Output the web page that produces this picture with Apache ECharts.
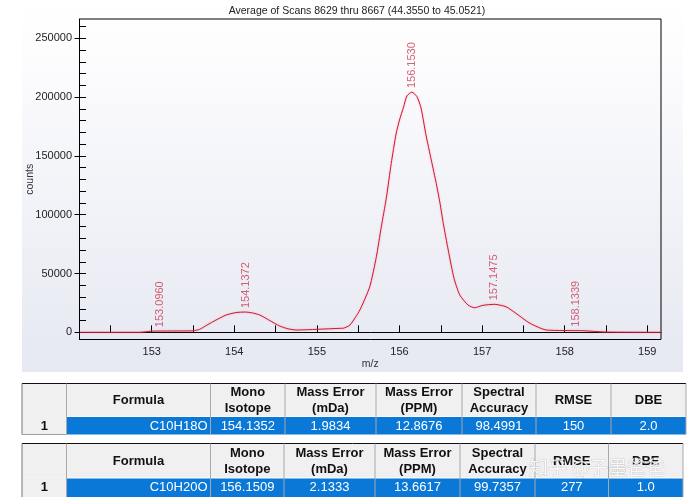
<!DOCTYPE html>
<html>
<head>
<meta charset="utf-8">
<style>html,body{margin:0;padding:0;background:#fff}#main{width:687px;height:497px}</style>
<script src="https://cdn.jsdelivr.net/npm/echarts@6/dist/echarts.min.js"></script>
</head>
<body>
<div id="main"></div>
<script>
var titleText = 'Average of Scans 8629 thru 8667 (44.3550 to 45.0521)';

// spectrum
var mzValues = [152.13, 152.5, 152.85, 153.0, 153.5, 153.58, 153.67, 153.78, 153.9, 154.02, 154.13, 154.22, 154.31, 154.43, 154.55, 154.65, 154.75, 155.0, 155.28, 155.32, 155.4, 155.52, 155.64, 155.72, 155.78, 155.84, 155.9, 155.96, 156.0, 156.05, 156.09, 156.15, 156.21, 156.26, 156.32, 156.385, 156.445, 156.49, 156.53, 156.59, 156.66, 156.73, 156.83, 156.91, 157.01, 157.15, 157.29, 157.41, 157.58, 157.78, 158.22, 158.5, 159.17];
var countValues = [0, 0, 0, 1000, 1300, 2500, 6200, 10500, 14700, 16800, 17250, 16500, 14700, 10000, 5350, 3000, 1950, 2550, 3400, 3500, 6200, 18950, 38760, 64260, 89760, 113900, 143650, 169150, 180450, 191760, 201000, 204250, 200500, 191000, 168000, 146450, 126650, 110000, 92650, 69950, 45900, 31700, 23200, 20900, 22950, 23800, 21760, 16150, 7650, 1950, 1360, 250, 0];

var peakMz = [153.096, 154.1372, 156.153, 157.1475, 158.1339];
var peakCounts = [1000, 17250, 204250, 23800, 1400];
var peakLabels = ['153.0960', '154.1372', '156.1530', '157.1475', '158.1339'];

var xMajorTicks = [153, 154, 155, 156, 157, 158, 159];
var xAllTicks = [152.5, 153, 153.5, 154, 154.5, 155, 155.5, 156, 156.5, 157, 157.5, 158, 158.5, 159];
var yMajorTicks = [0, 50000, 100000, 150000, 200000, 250000];
var yAllTicks = [0, 10000, 20000, 30000, 40000, 50000, 60000, 70000, 80000, 90000, 100000, 110000, 120000, 130000, 140000, 150000, 160000, 170000, 180000, 190000, 200000, 210000, 220000, 230000, 240000, 250000, 260000];

// result tables
var tableHeaders = ['Formula', 'Mono\nIsotope', 'Mass Error\n(mDa)', 'Mass Error\n(PPM)', 'Spectral\nAccuracy', 'RMSE', 'DBE'];
var rowOne = ['C10H18O', '154.1352', '1.9834', '12.8676', '98.4991', '150', '2.0'];
var rowTwo = ['C10H20O', '156.1509', '2.1333', '13.6617', '99.7357', '277', '1.0'];

var lineColor = '#d3152f';
var labelColor = '#cc3a50';
var axisFont = '"Liberation Sans", Arial, sans-serif';
var tableFont = '"Liberation Sans", Arial, sans-serif';

var curve = [];
for (var i = 0; i < mzValues.length; i++) {
    curve.push([mzValues[i], countValues[i]]);
}
var peaks = [];
for (var j = 0; j < peakMz.length; j++) {
    peaks.push({value: [peakMz[j], peakCounts[j]], name: peakLabels[j]});
}

// one table = header row + a single blue row, drawn as graphic rects
function buildTable(top, headBottom, bottom, textY, edges, row) {
    var items = [];
    var left = edges[0];
    var right = edges[edges.length - 1];
    items.push({type: 'rect', shape: {x: left, y: top, width: right - left, height: headBottom - top}, style: {fill: '#f0f0f0'}});
    items.push({type: 'rect', shape: {x: left, y: headBottom, width: edges[1] - left, height: bottom - headBottom}, style: {fill: '#f0f0f0'}});
    items.push({type: 'rect', shape: {x: edges[1], y: headBottom + 1, width: right - edges[1], height: bottom - headBottom - 1}, style: {fill: '#0a78d6'}});
    items.push({type: 'line', shape: {x1: left, y1: top, x2: right, y2: top}, style: {stroke: '#111', lineWidth: 1}});
    items.push({type: 'line', shape: {x1: left, y1: top, x2: left, y2: bottom}, style: {stroke: '#777', lineWidth: 1}});
    items.push({type: 'line', shape: {x1: left, y1: bottom, x2: edges[1], y2: bottom}, style: {stroke: '#a0a0a0', lineWidth: 1}});
    for (var c = 1; c < edges.length; c++) {
        items.push({type: 'line', shape: {x1: edges[c], y1: top, x2: edges[c], y2: bottom}, style: {stroke: '#a8a8a8', lineWidth: 1}});
    }
    items.push({type: 'text', style: {x: (left + edges[1]) / 2, y: textY, text: '1', fill: '#111', font: 'bold 13px ' + tableFont, align: 'center', verticalAlign: 'middle'}});
    for (var k = 0; k < tableHeaders.length; k++) {
        items.push({type: 'text', style: {
            x: (edges[k + 1] + edges[k + 2]) / 2, y: (top + headBottom) / 2 + 1, text: tableHeaders[k], fill: '#111',
            font: 'bold 13px ' + tableFont, lineHeight: 16, align: 'center', verticalAlign: 'middle'
        }});
        items.push({type: 'text', style: {
            x: k === 0 ? edges[2] - 3 : (edges[k + 1] + edges[k + 2]) / 2, y: textY, text: row[k], fill: '#fff',
            font: '13px ' + tableFont, align: k === 0 ? 'right' : 'center', verticalAlign: 'middle'
        }});
    }
    return items;
}

var panel = {
    type: 'rect', z: -1,
    shape: {x: 22, y: 0, width: 661, height: 372},
    style: {fill: new echarts.graphic.LinearGradient(0, 0, 0, 1, [
        {offset: 0, color: '#ffffff'}, {offset: 0.12, color: '#fdfdfe'}, {offset: 1, color: '#e6e8f2'}
    ])}
};
var edgesOne = [22, 66.5, 210.5, 285, 376, 462, 536, 611, 686];
var edgesTwo = [22, 66.5, 210.5, 284, 375, 460, 535, 608.5, 683];
var watermark = {
    type: 'text', z: 10,
    style: {x: 597, y: 468, text: '知乎 @子墨爸爸', fill: 'rgba(255,255,255,0.8)', stroke: 'rgba(130,130,130,0.45)', lineWidth: 0.6,
        font: '19px "Noto Sans CJK SC"', align: 'center', verticalAlign: 'middle'}
};

var myChart = echarts.init(document.getElementById('main'));
var option = {
    animation: false,
    backgroundColor: '#fff',
    title: {
        text: titleText, left: 352, top: 1, textAlign: 'center',
        textStyle: {color: '#222', fontWeight: 'normal', fontSize: 10.5, fontFamily: axisFont}
    },
    grid: {left: 79.5, right: 26, top: 19, bottom: 157.5, show: true, borderColor: '#000', borderWidth: 1, backgroundColor: 'transparent'},
    xAxis: [{
        type: 'value', min: 152.126, max: 159.166, name: 'm/z', nameLocation: 'middle', nameGap: 19, nameMoveOverlap: false,
        nameTextStyle: {color: '#333', fontSize: 10.5, fontFamily: tableFont},
        splitLine: {show: false},
        axisLine: {lineStyle: {color: '#000'}},
        axisTick: {inside: true, length: 7, lineStyle: {color: '#000'}, customValues: xAllTicks},
        axisLabel: {color: '#222', fontSize: 11, fontFamily: axisFont, margin: 7, customValues: xMajorTicks, formatter: function (v) { return String(v); }}
    }],
    yAxis: [{
        type: 'value', min: -6100, max: 266400, name: 'counts', nameLocation: 'middle', nameGap: 44, nameMoveOverlap: false,
        nameTextStyle: {color: '#333', fontSize: 10.5, fontFamily: tableFont},
        splitLine: {show: false},
        axisLine: {lineStyle: {color: '#000'}},
        axisTick: {length: 5, lineStyle: {color: '#000'}, customValues: yMajorTicks},
        axisLabel: {color: '#222', fontSize: 11, fontFamily: axisFont, margin: 7.5, customValues: yMajorTicks, formatter: function (v) { return String(v); }}
    }, {
        type: 'value', min: -6100, max: 266400, position: 'left',
        splitLine: {show: false},
        axisLine: {show: false},
        axisTick: {show: true, inside: true, length: 6.5, lineStyle: {color: '#000'}, customValues: yAllTicks},
        axisLabel: {show: false}
    }],
    series: [{
        type: 'line', data: curve, showSymbol: false, smooth: 0.2,
        lineStyle: {color: lineColor, width: 1, shadowColor: 'rgba(240,120,140,0.6)', shadowBlur: 2}
    }, {
        type: 'scatter', data: peaks, symbolSize: 0,
        label: {
            show: true, position: 'top', distance: 4, rotate: 90, align: 'left', verticalAlign: 'middle',
            formatter: '{b}', color: labelColor, fontSize: 11, fontFamily: axisFont
        }
    }],
    graphic: [panel]
        .concat(buildTable(383.5, 416, 434.5, 426.5, edgesOne, rowOne))
        .concat(buildTable(443.5, 477.5, 498, 487, edgesTwo, rowTwo))
        .concat([watermark])
};
myChart.setOption(option);
</script>
</body>
</html>
